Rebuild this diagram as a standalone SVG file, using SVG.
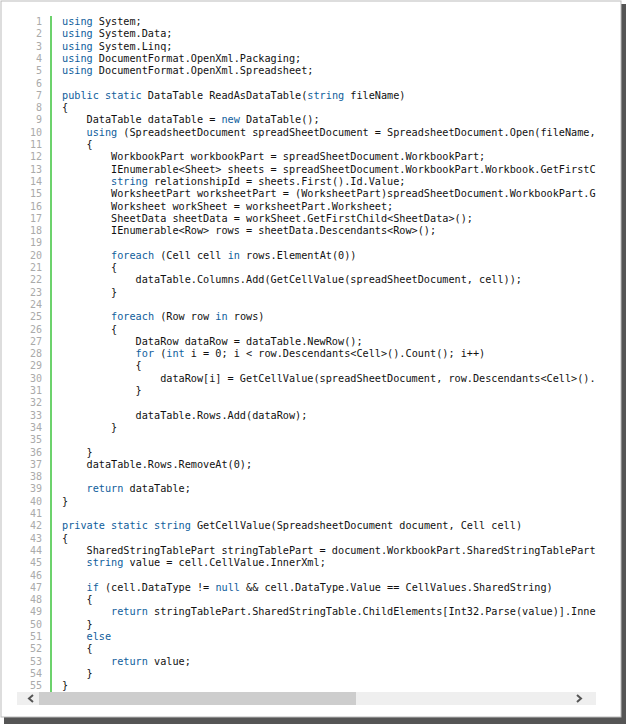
<svg xmlns="http://www.w3.org/2000/svg" width="626" height="724" viewBox="0 0 626 724">
<style>
.c{font-family:"DejaVu Sans Mono","Liberation Mono",monospace;font-size:10.2px;fill:#111;white-space:pre}
.k{fill:#0f5e9c}
.n{font-family:"DejaVu Sans Mono","Liberation Mono",monospace;font-size:10px;fill:#aaa;text-anchor:end}
</style>
<rect x="4" y="4" width="622" height="720" fill="#555"/>
<rect x="1" y="1" width="620" height="716" fill="#fff" stroke="#bbb"/>
<rect x="50" y="16" width="2" height="676" fill="#6cd26c"/>
<g id="nums">
<text class="n" x="42" y="25">1</text><text class="n" x="42" y="37.3">2</text><text class="n" x="42" y="49.6">3</text><text class="n" x="42" y="61.9">4</text><text class="n" x="42" y="74.2">5</text><text class="n" x="42" y="86.5">6</text><text class="n" x="42" y="98.8">7</text><text class="n" x="42" y="111.1">8</text><text class="n" x="42" y="123.4">9</text><text class="n" x="42" y="135.7">10</text><text class="n" x="42" y="148">11</text><text class="n" x="42" y="160.3">12</text><text class="n" x="42" y="172.6">13</text><text class="n" x="42" y="184.9">14</text><text class="n" x="42" y="197.2">15</text><text class="n" x="42" y="209.5">16</text><text class="n" x="42" y="221.8">17</text><text class="n" x="42" y="234.1">18</text><text class="n" x="42" y="246.4">19</text><text class="n" x="42" y="258.7">20</text><text class="n" x="42" y="271">21</text><text class="n" x="42" y="283.3">22</text><text class="n" x="42" y="295.6">23</text><text class="n" x="42" y="307.9">24</text><text class="n" x="42" y="320.2">25</text><text class="n" x="42" y="332.5">26</text><text class="n" x="42" y="344.8">27</text><text class="n" x="42" y="357.1">28</text><text class="n" x="42" y="369.4">29</text><text class="n" x="42" y="381.7">30</text><text class="n" x="42" y="394">31</text><text class="n" x="42" y="406.3">32</text><text class="n" x="42" y="418.6">33</text><text class="n" x="42" y="430.9">34</text><text class="n" x="42" y="443.2">35</text><text class="n" x="42" y="455.5">36</text><text class="n" x="42" y="467.8">37</text><text class="n" x="42" y="480.1">38</text><text class="n" x="42" y="492.4">39</text><text class="n" x="42" y="504.7">40</text><text class="n" x="42" y="517">41</text><text class="n" x="42" y="529.3">42</text><text class="n" x="42" y="541.6">43</text><text class="n" x="42" y="553.9">44</text><text class="n" x="42" y="566.2">45</text><text class="n" x="42" y="578.5">46</text><text class="n" x="42" y="590.8">47</text><text class="n" x="42" y="603.1">48</text><text class="n" x="42" y="615.4">49</text><text class="n" x="42" y="627.7">50</text><text class="n" x="42" y="640">51</text><text class="n" x="42" y="652.3">52</text><text class="n" x="42" y="664.6">53</text><text class="n" x="42" y="676.9">54</text><text class="n" x="42" y="689.2">55</text>
</g>
<g id="code">
<text class="c" x="62" y="25"><tspan class="k">using</tspan> System;</text>
<text class="c" x="62" y="37.3"><tspan class="k">using</tspan> System.Data;</text>
<text class="c" x="62" y="49.6"><tspan class="k">using</tspan> System.Linq;</text>
<text class="c" x="62" y="61.9"><tspan class="k">using</tspan> DocumentFormat.OpenXml.Packaging;</text>
<text class="c" x="62" y="74.2"><tspan class="k">using</tspan> DocumentFormat.OpenXml.Spreadsheet;</text>
<text class="c" x="62" y="98.8"><tspan class="k">public static</tspan> DataTable ReadAsDataTable(<tspan class="k">string</tspan> fileName)</text>
<text class="c" x="62" y="111.1">{</text>
<text class="c" x="62" y="123.4">    DataTable dataTable = <tspan class="k">new</tspan> DataTable();</text>
<text class="c" x="62" y="135.7">    <tspan class="k">using</tspan> (SpreadsheetDocument spreadSheetDocument = SpreadsheetDocument.Open(fileName,</text>
<text class="c" x="62" y="148">    {</text>
<text class="c" x="62" y="160.3">        WorkbookPart workbookPart = spreadSheetDocument.WorkbookPart;</text>
<text class="c" x="62" y="172.6">        IEnumerable&lt;Sheet&gt; sheets = spreadSheetDocument.WorkbookPart.Workbook.GetFirstC</text>
<text class="c" x="62" y="184.9">        <tspan class="k">string</tspan> relationshipId = sheets.First().Id.Value;</text>
<text class="c" x="62" y="197.2">        WorksheetPart worksheetPart = (WorksheetPart)spreadSheetDocument.WorkbookPart.G</text>
<text class="c" x="62" y="209.5">        Worksheet workSheet = worksheetPart.Worksheet;</text>
<text class="c" x="62" y="221.8">        SheetData sheetData = workSheet.GetFirstChild&lt;SheetData&gt;();</text>
<text class="c" x="62" y="234.1">        IEnumerable&lt;Row&gt; rows = sheetData.Descendants&lt;Row&gt;();</text>
<text class="c" x="62" y="258.7">        <tspan class="k">foreach</tspan> (Cell cell <tspan class="k">in</tspan> rows.ElementAt(0))</text>
<text class="c" x="62" y="271">        {</text>
<text class="c" x="62" y="283.3">            dataTable.Columns.Add(GetCellValue(spreadSheetDocument, cell));</text>
<text class="c" x="62" y="295.6">        }</text>
<text class="c" x="62" y="320.2">        <tspan class="k">foreach</tspan> (Row row <tspan class="k">in</tspan> rows)</text>
<text class="c" x="62" y="332.5">        {</text>
<text class="c" x="62" y="344.8">            DataRow dataRow = dataTable.NewRow();</text>
<text class="c" x="62" y="357.1">            <tspan class="k">for</tspan> (<tspan class="k">int</tspan> i = 0; i &lt; row.Descendants&lt;Cell&gt;().Count(); i++)</text>
<text class="c" x="62" y="369.4">            {</text>
<text class="c" x="62" y="381.7">                dataRow[i] = GetCellValue(spreadSheetDocument, row.Descendants&lt;Cell&gt;().</text>
<text class="c" x="62" y="394">            }</text>
<text class="c" x="62" y="418.6">            dataTable.Rows.Add(dataRow);</text>
<text class="c" x="62" y="430.9">        }</text>
<text class="c" x="62" y="455.5">    }</text>
<text class="c" x="62" y="467.8">    dataTable.Rows.RemoveAt(0);</text>
<text class="c" x="62" y="492.4">    <tspan class="k">return</tspan> dataTable;</text>
<text class="c" x="62" y="504.7">}</text>
<text class="c" x="62" y="529.3"><tspan class="k">private static string</tspan> GetCellValue(SpreadsheetDocument document, Cell cell)</text>
<text class="c" x="62" y="541.6">{</text>
<text class="c" x="62" y="553.9">    SharedStringTablePart stringTablePart = document.WorkbookPart.SharedStringTablePart</text>
<text class="c" x="62" y="566.2">    <tspan class="k">string</tspan> value = cell.CellValue.InnerXml;</text>
<text class="c" x="62" y="590.8">    <tspan class="k">if</tspan> (cell.DataType != <tspan class="k">null</tspan> &amp;&amp; cell.DataType.Value == CellValues.SharedString)</text>
<text class="c" x="62" y="603.1">    {</text>
<text class="c" x="62" y="615.4">        <tspan class="k">return</tspan> stringTablePart.SharedStringTable.ChildElements[Int32.Parse(value)].Inne</text>
<text class="c" x="62" y="627.7">    }</text>
<text class="c" x="62" y="640">    <tspan class="k">else</tspan></text>
<text class="c" x="62" y="652.3">    {</text>
<text class="c" x="62" y="664.6">        <tspan class="k">return</tspan> value;</text>
<text class="c" x="62" y="676.9">    }</text>
<text class="c" x="62" y="689.2">}</text>
</g>
<g id="scrollbar">
<rect x="17" y="692" width="579" height="13" fill="#efefef"/>
<rect x="39" y="692" width="317" height="13" fill="#cdcdcd"/>
<path d="M33 695 L29 698.5 L33 702" fill="none" stroke="#555" stroke-width="2"/>
<path d="M577 695 L581 698.5 L577 702" fill="none" stroke="#555" stroke-width="2"/>
</g>
</svg>
